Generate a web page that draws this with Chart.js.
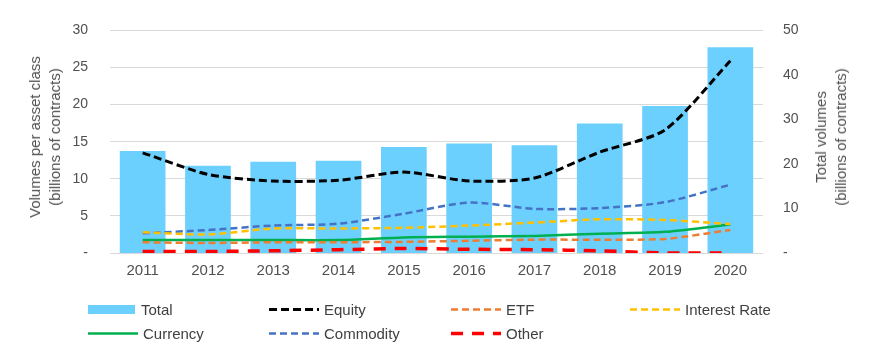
<!DOCTYPE html>
<html><head><meta charset="utf-8">
<script src="https://cdn.jsdelivr.net/npm/chart.js@4"></script>
<style>
html,body{margin:0;padding:0;background:#fff;}
#wrap{position:relative;width:878px;height:357px;font-family:'Liberation Sans',Arial,sans-serif;color:#505050;overflow:hidden;}
#c{position:absolute;left:0;top:0;}
.ytitle{position:absolute;white-space:nowrap;text-align:center;font-size:15px;line-height:20px;transform:translate(-50%,-50%) rotate(-90deg);}
.leg{position:absolute;display:flex;align-items:center;font-size:15px;white-space:nowrap;transform:translateY(-50%);color:#404040;}
.leg svg{margin-right:5px;}
</style></head><body>
<div id="wrap">
<canvas id="c" width="878" height="357"></canvas>
<div class="ytitle" style="left:45px;top:137px">Volumes per asset class<br>(billions of contracts)</div>
<div class="ytitle" style="left:831px;top:137px">Total volumes<br>(billions of contracts)</div>
<div id="legend"></div>
</div>
<script>
const years = ['2011','2012','2013','2014','2015','2016','2017','2018','2019','2020'];
const total = [22.9, 19.6, 20.5, 20.7, 23.8, 24.6, 24.2, 29.1, 33.0, 46.2];
const equity = [13.5, 10.6, 9.7, 9.8, 10.9, 9.7, 10.1, 13.6, 16.6, 25.9];
const etf = [1.45, 1.35, 1.45, 1.45, 1.5, 1.65, 1.8, 1.8, 1.9, 3.1];
const interestRate = [2.8, 2.5, 3.3, 3.3, 3.4, 3.7, 4.1, 4.55, 4.45, 3.9];
const currency = [1.75, 1.75, 1.75, 1.75, 2.1, 2.2, 2.3, 2.6, 2.85, 3.85];
const commodity = [2.65, 3.1, 3.7, 3.95, 5.3, 6.8, 5.95, 6.05, 6.85, 9.2];
const other = [0.2, 0.2, 0.3, 0.45, 0.6, 0.5, 0.45, 0.3, 0.0, 0.0];
const leftTicks = [0, 5, 10, 15, 20, 25, 30];
const rightTicks = [0, 10, 20, 30, 40, 50];

const FONT = "'Liberation Sans', Arial, sans-serif";
function line(label, data, color, width, dash) {
  return {type:'line', label, data, borderColor:color, backgroundColor:color, borderWidth:width,
    borderDash:dash, pointRadius:0, tension:0.25, fill:false, yAxisID:'y', order:1};
}
const datasets = [
  {type:'bar', label:'Total', data: total, backgroundColor:'#6CD0FF', yAxisID:'y1', order:2,
   barPercentage:0.70, categoryPercentage:1.0},
  line('Equity', equity, '#000000', 3, [8,4]),
  line('ETF', etf, '#ED7D31', 2.5, [7,4]),
  line('Interest Rate', interestRate, '#FFC000', 2.5, [7,4]),
  line('Currency', currency, '#00B050', 2.5, []),
  line('Commodity', commodity, '#4472C4', 2.5, [7,4]),
  line('Other', other, '#FF0000', 3.5, [12,9])
];

const chart = new Chart(document.getElementById('c'), {
  data: {labels: years, datasets},
  options: {
    responsive:false, animation:false, devicePixelRatio:1,
    layout:{padding:{top:20,left:0,right:0,bottom:0}},
    plugins:{legend:{display:false}, tooltip:{enabled:false}},
    scales:{
      x:{offset:true, grid:{display:false, drawTicks:false}, border:{display:false},
         ticks:{font:{family:FONT,size:15}, color:'#505050', padding:9},
         afterFit:s=>{s.height=104;}},
      y:{position:'left', min:0, max:30, afterBuildTicks:s=>{s.ticks=leftTicks.map(v=>({value:v}));},
         ticks:{font:{family:FONT,size:14}, color:'#505050', padding:22, callback:v=>v===0?'-':v},
         grid:{color:'#D9D9D9', lineWidth:1, drawTicks:false}, border:{display:false},
         afterFit:s=>{s.width=110;}},
      y1:{position:'right', min:0, max:50, afterBuildTicks:s=>{s.ticks=rightTicks.map(v=>({value:v}));},
         ticks:{font:{family:FONT,size:14}, color:'#505050', padding:20, callback:v=>v===0?'-':v},
         grid:{display:false, drawTicks:false}, border:{display:false},
         afterFit:s=>{s.width=115;}}
    }
  }
});

// HTML legend built from the chart's datasets
const legendPos = [[88,309],[269,309],[451,309],[630,309],[88,333],[269,333],[451,333]];
const lg = document.getElementById('legend');
chart.data.datasets.forEach((ds,i)=>{
  const d = document.createElement('div');
  d.className='leg';
  d.style.left = legendPos[i][0]+'px';
  d.style.top = legendPos[i][1]+'px';
  let mk;
  if (ds.type==='bar') {
    mk = `<svg width="48" height="12"><rect x="0" y="1.5" width="47" height="9" fill="${ds.backgroundColor}"/></svg>`;
  } else {
    const da = ds.borderDash && ds.borderDash.length ? `stroke-dasharray="${ds.borderDash.join(',')}"` : '';
    mk = `<svg width="50" height="12"><line x1="0" y1="6" x2="50" y2="6" stroke="${ds.borderColor}" stroke-width="${ds.borderWidth}" ${da}/></svg>`;
  }
  d.innerHTML = mk + '<span>'+ds.label+'</span>';
  lg.appendChild(d);
});
</script>
</body></html>
